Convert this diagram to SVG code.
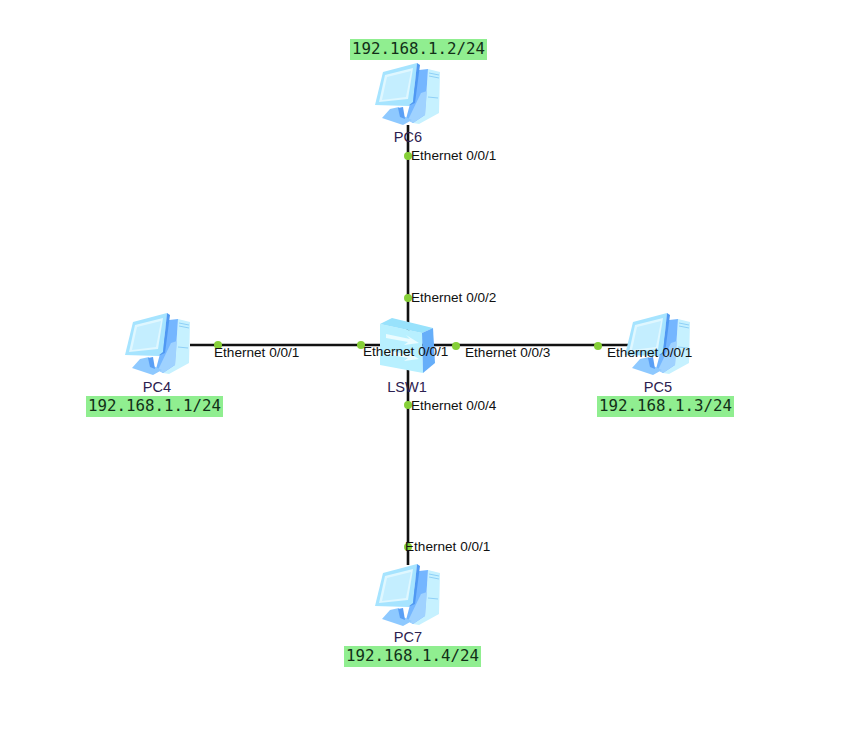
<svg xmlns="http://www.w3.org/2000/svg" xmlns:xlink="http://www.w3.org/1999/xlink" width="860" height="743" viewBox="0 0 860 743">
<style>
.port{font:13.600px "Liberation Sans",Arial,sans-serif;fill:#111}
.name{font:14.600px "Liberation Sans",Arial,sans-serif;fill:#2c2150;text-anchor:middle}
.ip{font:15.800px "DejaVu Sans Mono","Liberation Mono",monospace;fill:#123018;text-anchor:middle}
.ipbg{fill:#90ee90}
.dot{fill:#86cf38}
.wire{stroke:#111;stroke-width:2.6;fill:none}
</style>
<defs>
<g id="pc">
<path d="M53 6 L65 9 L64 50 L44 61 L38 60 L50 52Z" fill="#c6f1ff"/>
<path d="M44 7 L53 6 L50 52 L38 60 L31 56Z" fill="#74b6ff"/>
<path d="M46 30 L52 28 L50 52 L38 60 L33 57Z" fill="#9fd2ff"/>
<path d="M54 10 L64 12 M54 13 L64 15 M53 34 L63 35" stroke="#8fd0f7" stroke-width="1" fill="none"/>
<path d="M15 46 L24 44 L26 52 L37 57 L28 62 L7 55Z" fill="#8ec9ff"/>
<path d="M23 45 L28 44 L30 56 L25 54Z" fill="#5a9ff5"/>
<path d="M8 9 L42 0 L38 40 L33 43 L0 42Z" fill="#a6e4ff"/>
<path d="M42 0 L45 2 L40 40 L33 43 L38 39Z" fill="#4f98f2"/>
<path d="M10 12 L38 5 L33 36 L4 39Z" fill="#dff7ff"/>
<path d="M12 14 L36 8 L31 34 L7 37Z" fill="#c4eeff"/>
</g>
<g id="sw-arrow"><path d="M0 0L24 5L20 1L33 9L18 11L22 8L0 4Z" fill="#eafcff"/></g>
</defs>
<g id="connectors">
<path class="wire" d="M408 125V565"/>
<path class="wire" d="M190 345H630"/>
</g>
<g id="PC6"><use xlink:href="#pc" href="#pc" x="375" y="63"/><rect class="ipbg" x="350" y="39" width="137" height="21"/><text class="ip" x="418.500" y="54">192.168.1.2/24</text><text class="name" x="408" y="142">PC6</text></g>
<g id="PC4"><use xlink:href="#pc" href="#pc" x="125" y="313"/><rect class="ipbg" x="86" y="396" width="137" height="21"/><text class="ip" x="154.500" y="411">192.168.1.1/24</text><text class="name" x="157" y="392">PC4</text></g>
<g id="PC5"><use xlink:href="#pc" href="#pc" x="625" y="313"/><rect class="ipbg" x="597" y="396" width="137" height="21"/><text class="ip" x="665.500" y="411">192.168.1.3/24</text><text class="name" x="658" y="392">PC5</text></g>
<g id="PC7"><use xlink:href="#pc" href="#pc" x="375" y="564"/><rect class="ipbg" x="344" y="646" width="137" height="21"/><text class="ip" x="412.500" y="661">192.168.1.4/24</text><text class="name" x="408" y="642">PC7</text></g>
<g id="LSW1">
<path d="M380 324L422 333L423 373L380 365Z" fill="#b8f0ff"/>
<path d="M380 324L392 318L433 328L422 333Z" fill="#98e2fc"/>
<path d="M422 333L433 328L435 363L423 373Z" fill="#66aef9"/>
<use xlink:href="#sw-arrow" href="#sw-arrow" x="386" y="334"/>
<use xlink:href="#sw-arrow" href="#sw-arrow" x="386" y="350"/>
<text class="name" x="407" y="392">LSW1</text>
</g>
<g id="ports">
<circle class="dot" cx="408" cy="156" r="4"/><circle class="dot" cx="408" cy="298" r="4"/><circle class="dot" cx="408" cy="405" r="4"/><circle class="dot" cx="408" cy="547" r="4"/><circle class="dot" cx="218" cy="345" r="4"/><circle class="dot" cx="361" cy="345" r="4"/><circle class="dot" cx="456" cy="346" r="4"/><circle class="dot" cx="598" cy="346" r="4"/>
<text class="port" x="411" y="160">Ethernet 0/0/1</text>
<text class="port" x="411" y="302">Ethernet 0/0/2</text>
<text class="port" x="411" y="410">Ethernet 0/0/4</text>
<text class="port" x="405" y="551">Ethernet 0/0/1</text>
<text class="port" x="214" y="357">Ethernet 0/0/1</text>
<text class="port" x="363" y="356">Ethernet 0/0/1</text>
<text class="port" x="465" y="357">Ethernet 0/0/3</text>
<text class="port" x="607" y="357">Ethernet 0/0/1</text>
</g>
</svg>
